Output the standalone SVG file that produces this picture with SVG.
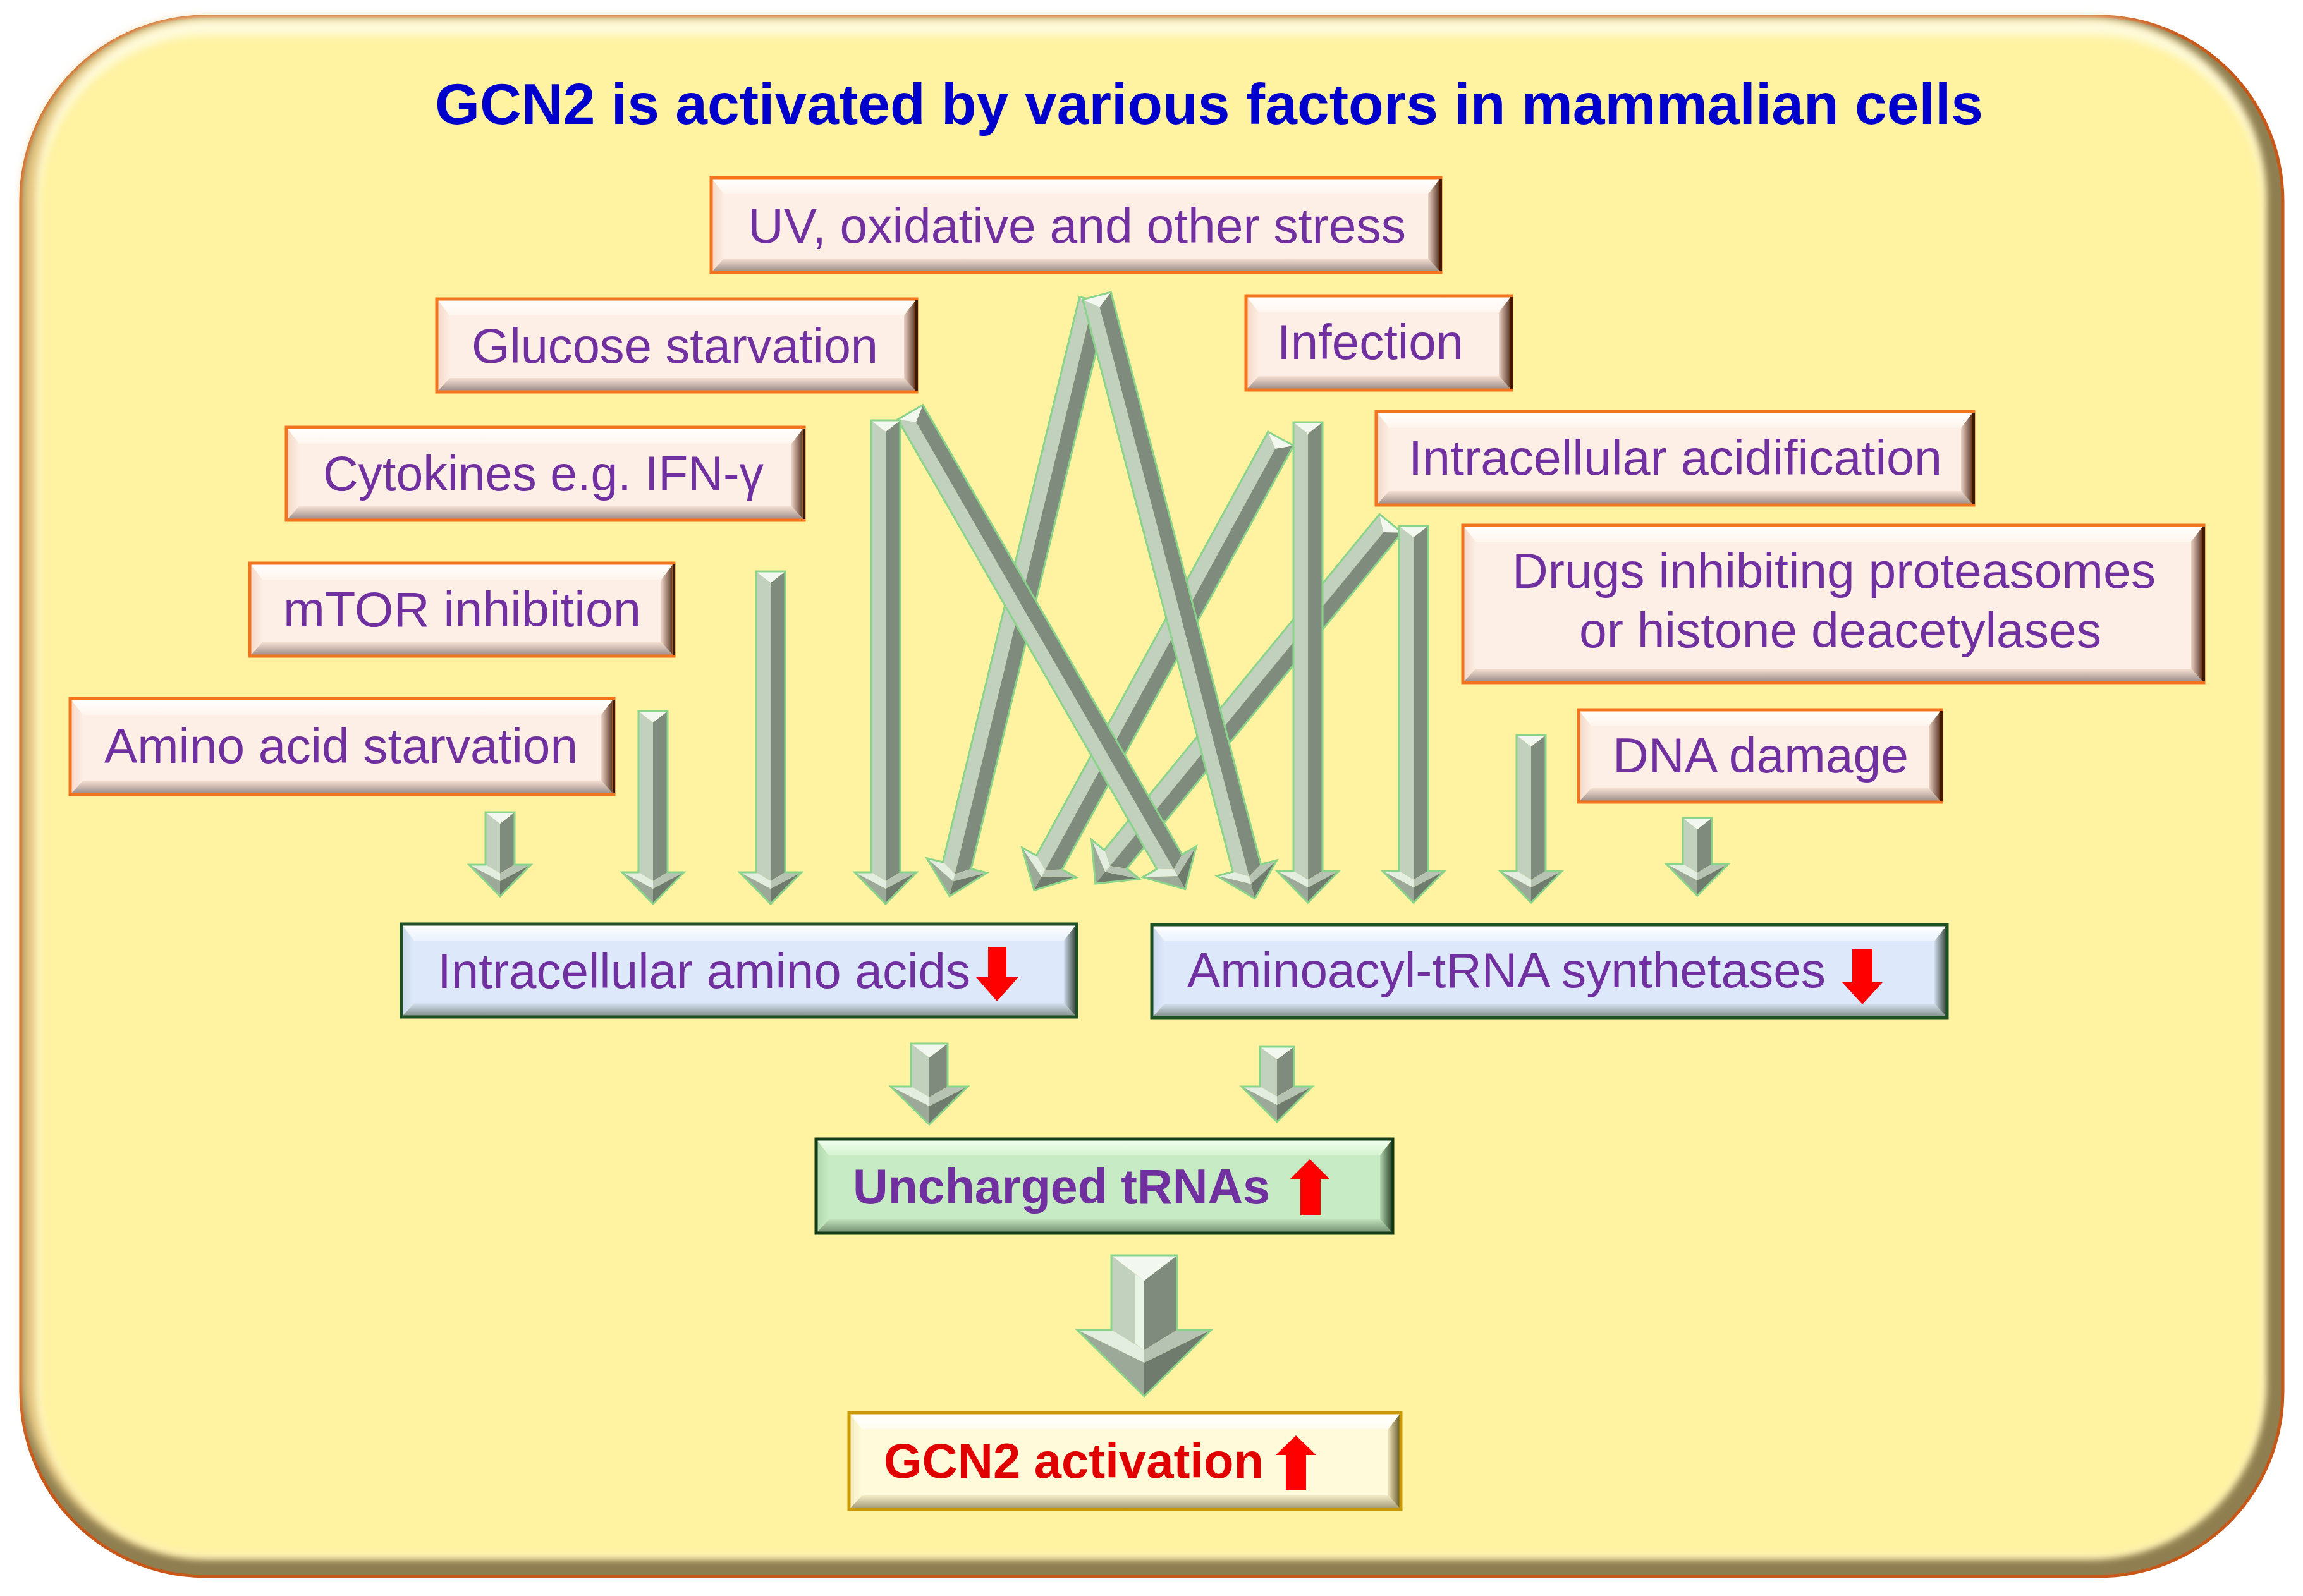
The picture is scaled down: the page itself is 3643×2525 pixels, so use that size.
<svg xmlns="http://www.w3.org/2000/svg" width="3643" height="2525" viewBox="0 0 3643 2525">
<defs>
<style>
.t{font-family:"Liberation Sans",Arial,sans-serif;font-size:78px;fill:#7030a0}
.b{font-weight:bold}
.title{font-family:"Liberation Sans",Arial,sans-serif;font-size:90px;font-weight:bold;fill:#0000cc}
.red{fill:#e00000}
.ra{fill:#ff0000}
.sl{fill:#c2d0be}.sr{fill:#7f8b7d}.cap{fill:#f2f8f0}
.hlu{fill:#e3ede0}.hru{fill:#b6c3b3}.hll{fill:#9ca999}.hrl{fill:#6f7b6c}
.ol{fill:none;stroke:#8ad38a;stroke-width:3;stroke-linejoin:miter}
.pkT{fill:url(#pkTop)}.pkB{fill:url(#pkBot)}.pkR{fill:url(#pkRight)}.pkL{fill:url(#pkLeft)}.pkF{fill:#fdefe6}
.pkS{fill:none;stroke:#f3741f;stroke-width:5}
.blT{fill:url(#blTop)}.blB{fill:url(#blBot)}.blR{fill:url(#blRight)}.blL{fill:url(#blLeft)}.blF{fill:#dde9fb}
.blS{fill:none;stroke:#1f4f24;stroke-width:5}
.grT{fill:url(#grTop)}.grB{fill:url(#grBot)}.grR{fill:url(#grRight)}.grL{fill:url(#grLeft)}.grF{fill:#c7ebc4}
.grS{fill:none;stroke:#143c18;stroke-width:5}
.crT{fill:url(#crTop)}.crB{fill:url(#crBot)}.crR{fill:url(#crRight)}.crL{fill:url(#crLeft)}.crF{fill:#fffbda}
.crS{fill:none;stroke:#c99a06;stroke-width:5}
.rd{stroke:#3c1a08;stroke-width:4}
</style>
<linearGradient id="pkTop" x1="0" y1="0" x2="0" y2="1"><stop offset="0" stop-color="#ffffff"/><stop offset="1" stop-color="#fff5ee"/></linearGradient>
<linearGradient id="pkBot" x1="0" y1="0" x2="0" y2="1"><stop offset="0" stop-color="#f6e0d4"/><stop offset="1" stop-color="#968783"/></linearGradient>
<linearGradient id="pkRight" x1="0" y1="0" x2="1" y2="0"><stop offset="0" stop-color="#ecd3c6"/><stop offset="1" stop-color="#4a2413"/></linearGradient>
<linearGradient id="pkLeft" x1="0" y1="0" x2="1" y2="0"><stop offset="0" stop-color="#f3d6c6"/><stop offset="1" stop-color="#fdeee4"/></linearGradient>
<linearGradient id="blTop" x1="0" y1="0" x2="0" y2="1"><stop offset="0" stop-color="#ffffff"/><stop offset="1" stop-color="#eaf2fd"/></linearGradient>
<linearGradient id="blBot" x1="0" y1="0" x2="0" y2="1"><stop offset="0" stop-color="#d4e0f0"/><stop offset="1" stop-color="#7e8c86"/></linearGradient>
<linearGradient id="blRight" x1="0" y1="0" x2="1" y2="0"><stop offset="0" stop-color="#d0dcec"/><stop offset="1" stop-color="#2c3a30"/></linearGradient>
<linearGradient id="blLeft" x1="0" y1="0" x2="1" y2="0"><stop offset="0" stop-color="#c9d7ea"/><stop offset="1" stop-color="#dde9fb"/></linearGradient>
<linearGradient id="grTop" x1="0" y1="0" x2="0" y2="1"><stop offset="0" stop-color="#f2fff0"/><stop offset="1" stop-color="#d4f2d0"/></linearGradient>
<linearGradient id="grBot" x1="0" y1="0" x2="0" y2="1"><stop offset="0" stop-color="#bfe0bb"/><stop offset="1" stop-color="#6f8c6c"/></linearGradient>
<linearGradient id="grRight" x1="0" y1="0" x2="1" y2="0"><stop offset="0" stop-color="#b4d4b0"/><stop offset="1" stop-color="#233f23"/></linearGradient>
<linearGradient id="grLeft" x1="0" y1="0" x2="1" y2="0"><stop offset="0" stop-color="#aed6aa"/><stop offset="1" stop-color="#c7ebc4"/></linearGradient>
<linearGradient id="crTop" x1="0" y1="0" x2="0" y2="1"><stop offset="0" stop-color="#ffffff"/><stop offset="1" stop-color="#fffdf0"/></linearGradient>
<linearGradient id="crBot" x1="0" y1="0" x2="0" y2="1"><stop offset="0" stop-color="#f4edc8"/><stop offset="1" stop-color="#9d9472"/></linearGradient>
<linearGradient id="crRight" x1="0" y1="0" x2="1" y2="0"><stop offset="0" stop-color="#ece3b8"/><stop offset="1" stop-color="#5a4e1e"/></linearGradient>
<linearGradient id="crLeft" x1="0" y1="0" x2="1" y2="0"><stop offset="0" stop-color="#f2eabf"/><stop offset="1" stop-color="#fffbda"/></linearGradient>
<filter id="soft" x="-2%" y="-2%" width="104%" height="104%"><feGaussianBlur stdDeviation="7"/></filter>
</defs>

<rect width="3643" height="2525" fill="#ffffff"/>

<g id="panel">
<rect x="33" y="26" width="3578" height="2468" rx="292" fill="#8f7f50" stroke="#c8581a" stroke-width="5"/>
<rect x="36" y="29" width="3545" height="2434" rx="285" fill="#e6c882" filter="url(#soft)"/>
<rect x="58" y="30" width="3523" height="2433" rx="275" fill="#fffbdc" filter="url(#soft)"/>
<rect x="62" y="56" width="3518" height="2406" rx="265" fill="#fff2a0" filter="url(#soft)"/>
</g>

<g id="title"><text class="title" x="688" y="196" textLength="2449" lengthAdjust="spacingAndGlyphs">GCN2 is activated by various factors in mammalian cells</text></g>

<g id="connectors">
<g id="a6" transform="translate(1730,475) rotate(13.59)">
<polygon class="sl" points="-23,0 0,18 0,934 -23,920"/><polygon class="sr" points="23,0 0,18 0,934 23,920"/><polygon class="cap" points="-23,0 23,0 0,18"/>
<polygon class="hlu" points="-49,920 -23,920 0,934 0,946"/><polygon class="hru" points="49,920 23,920 0,934 0,946"/><polygon class="hll" points="-49,920 0,946 0,970"/><polygon class="hrl" points="49,920 0,946 0,970"/>
<polygon class="ol" points="-23,0 23,0 23,920 49,920 0,970 -49,920 -23,920"/></g>
<g id="a8" transform="translate(2026,694) rotate(28.64)">
<polygon class="sl" points="-23,0 0,18 0,778 -23,764"/><polygon class="sr" points="23,0 0,18 0,778 23,764"/><polygon class="cap" points="-23,0 23,0 0,18"/>
<polygon class="hlu" points="-49,764 -23,764 0,778 0,790"/><polygon class="hru" points="49,764 23,764 0,778 0,790"/><polygon class="hll" points="-49,764 0,790 0,814"/><polygon class="hrl" points="49,764 0,790 0,814"/>
<polygon class="ol" points="-23,0 23,0 23,764 49,764 0,814 -49,764 -23,764"/></g>
<g id="a10" transform="translate(2200,828) rotate(39.33)">
<polygon class="sl" points="-23,0 0,18 0,701 -23,687"/><polygon class="sr" points="23,0 0,18 0,701 23,687"/><polygon class="cap" points="-23,0 23,0 0,18"/>
<polygon class="hlu" points="-49,687 -23,687 0,701 0,713"/><polygon class="hru" points="49,687 23,687 0,701 0,713"/><polygon class="hll" points="-49,687 0,713 0,737"/><polygon class="hrl" points="49,687 0,713 0,737"/>
<polygon class="ol" points="-23,0 23,0 23,687 49,687 0,737 -49,687 -23,687"/></g>
<g id="a5" transform="translate(1440,652) rotate(-29.95)">
<polygon class="sl" points="-23,0 0,18 0,835 -23,821"/><polygon class="sr" points="23,0 0,18 0,835 23,821"/><polygon class="cap" points="-23,0 23,0 0,18"/>
<polygon class="hlu" points="-49,821 -23,821 0,835 0,847"/><polygon class="hru" points="49,821 23,821 0,835 0,847"/><polygon class="hll" points="-49,821 0,847 0,871"/><polygon class="hrl" points="49,821 0,847 0,871"/>
<polygon class="ol" points="-23,0 23,0 23,821 49,821 0,871 -49,821 -23,821"/></g>
<g id="a7" transform="translate(1735,468) rotate(-14.69)">
<polygon class="sl" points="-23,0 0,18 0,950 -23,936"/><polygon class="sr" points="23,0 0,18 0,950 23,936"/><polygon class="cap" points="-23,0 23,0 0,18"/>
<polygon class="hlu" points="-49,936 -23,936 0,950 0,962"/><polygon class="hru" points="49,936 23,936 0,950 0,962"/><polygon class="hll" points="-49,936 0,962 0,986"/><polygon class="hrl" points="49,936 0,962 0,986"/>
<polygon class="ol" points="-23,0 23,0 23,936 49,936 0,986 -49,936 -23,936"/></g>
<g id="a1" transform="translate(791,1285)">
<polygon class="sl" points="-23,0 0,18 0,97 -23,83"/><polygon class="sr" points="23,0 0,18 0,97 23,83"/><polygon class="cap" points="-23,0 23,0 0,18"/>
<polygon class="hlu" points="-49,83 -23,83 0,97 0,109"/><polygon class="hru" points="49,83 23,83 0,97 0,109"/><polygon class="hll" points="-49,83 0,109 0,133"/><polygon class="hrl" points="49,83 0,109 0,133"/>
<polygon class="ol" points="-23,0 23,0 23,83 49,83 0,133 -49,83 -23,83"/></g>
<g id="a2" transform="translate(1033,1125)">
<polygon class="sl" points="-23,0 0,18 0,269 -23,255"/><polygon class="sr" points="23,0 0,18 0,269 23,255"/><polygon class="cap" points="-23,0 23,0 0,18"/>
<polygon class="hlu" points="-49,255 -23,255 0,269 0,281"/><polygon class="hru" points="49,255 23,255 0,269 0,281"/><polygon class="hll" points="-49,255 0,281 0,305"/><polygon class="hrl" points="49,255 0,281 0,305"/>
<polygon class="ol" points="-23,0 23,0 23,255 49,255 0,305 -49,255 -23,255"/></g>
<g id="a3" transform="translate(1219,904)">
<polygon class="sl" points="-23,0 0,18 0,490 -23,476"/><polygon class="sr" points="23,0 0,18 0,490 23,476"/><polygon class="cap" points="-23,0 23,0 0,18"/>
<polygon class="hlu" points="-49,476 -23,476 0,490 0,502"/><polygon class="hru" points="49,476 23,476 0,490 0,502"/><polygon class="hll" points="-49,476 0,502 0,526"/><polygon class="hrl" points="49,476 0,502 0,526"/>
<polygon class="ol" points="-23,0 23,0 23,476 49,476 0,526 -49,476 -23,476"/></g>
<g id="a4" transform="translate(1401,665)">
<polygon class="sl" points="-23,0 0,18 0,729 -23,715"/><polygon class="sr" points="23,0 0,18 0,729 23,715"/><polygon class="cap" points="-23,0 23,0 0,18"/>
<polygon class="hlu" points="-49,715 -23,715 0,729 0,741"/><polygon class="hru" points="49,715 23,715 0,729 0,741"/><polygon class="hll" points="-49,715 0,741 0,765"/><polygon class="hrl" points="49,715 0,741 0,765"/>
<polygon class="ol" points="-23,0 23,0 23,715 49,715 0,765 -49,715 -23,715"/></g>
<g id="a9" transform="translate(2069,668)">
<polygon class="sl" points="-23,0 0,18 0,724 -23,710"/><polygon class="sr" points="23,0 0,18 0,724 23,710"/><polygon class="cap" points="-23,0 23,0 0,18"/>
<polygon class="hlu" points="-49,710 -23,710 0,724 0,736"/><polygon class="hru" points="49,710 23,710 0,724 0,736"/><polygon class="hll" points="-49,710 0,736 0,760"/><polygon class="hrl" points="49,710 0,736 0,760"/>
<polygon class="ol" points="-23,0 23,0 23,710 49,710 0,760 -49,710 -23,710"/></g>
<g id="a11" transform="translate(2236,832)">
<polygon class="sl" points="-23,0 0,18 0,560 -23,546"/><polygon class="sr" points="23,0 0,18 0,560 23,546"/><polygon class="cap" points="-23,0 23,0 0,18"/>
<polygon class="hlu" points="-49,546 -23,546 0,560 0,572"/><polygon class="hru" points="49,546 23,546 0,560 0,572"/><polygon class="hll" points="-49,546 0,572 0,596"/><polygon class="hrl" points="49,546 0,572 0,596"/>
<polygon class="ol" points="-23,0 23,0 23,546 49,546 0,596 -49,546 -23,546"/></g>
<g id="a12" transform="translate(2422,1163)">
<polygon class="sl" points="-23,0 0,18 0,229 -23,215"/><polygon class="sr" points="23,0 0,18 0,229 23,215"/><polygon class="cap" points="-23,0 23,0 0,18"/>
<polygon class="hlu" points="-49,215 -23,215 0,229 0,241"/><polygon class="hru" points="49,215 23,215 0,229 0,241"/><polygon class="hll" points="-49,215 0,241 0,265"/><polygon class="hrl" points="49,215 0,241 0,265"/>
<polygon class="ol" points="-23,0 23,0 23,215 49,215 0,265 -49,215 -23,215"/></g>
<g id="a13" transform="translate(2685,1294)">
<polygon class="sl" points="-23,0 0,18 0,87 -23,73"/><polygon class="sr" points="23,0 0,18 0,87 23,73"/><polygon class="cap" points="-23,0 23,0 0,18"/>
<polygon class="hlu" points="-49,73 -23,73 0,87 0,99"/><polygon class="hru" points="49,73 23,73 0,87 0,99"/><polygon class="hll" points="-49,73 0,99 0,123"/><polygon class="hrl" points="49,73 0,99 0,123"/>
<polygon class="ol" points="-23,0 23,0 23,73 49,73 0,123 -49,73 -23,73"/></g>
<g id="b1" transform="translate(1470,1651)">
<polygon class="sl" points="-29,0 0,22 0,85 -29,68"/><polygon class="sr" points="29,0 0,22 0,85 29,68"/><polygon class="cap" points="-29,0 29,0 0,22"/>
<polygon class="hlu" points="-61,68 -29,68 0,85 0,99"/><polygon class="hru" points="61,68 29,68 0,85 0,99"/><polygon class="hll" points="-61,68 0,99 0,128"/><polygon class="hrl" points="61,68 0,99 0,128"/>
<polygon class="ol" points="-29,0 29,0 29,68 61,68 0,128 -61,68 -29,68"/></g>
<g id="b2" transform="translate(2020,1656)">
<polygon class="sl" points="-27,0 0,20 0,79 -27,63"/><polygon class="sr" points="27,0 0,20 0,79 27,63"/><polygon class="cap" points="-27,0 27,0 0,20"/>
<polygon class="hlu" points="-56,63 -27,63 0,79 0,92"/><polygon class="hru" points="56,63 27,63 0,79 0,92"/><polygon class="hll" points="-56,63 0,92 0,119"/><polygon class="hrl" points="56,63 0,92 0,119"/>
<polygon class="ol" points="-27,0 27,0 27,63 56,63 0,119 -56,63 -27,63"/></g>
<g id="b3" transform="translate(1810,1986)">
<polygon class="sl" points="-52,0 0,40 0,150 -52,118"/><polygon class="sr" points="52,0 0,40 0,150 52,118"/><polygon class="cap" points="-52,0 52,0 0,40"/>
<polygon fill="#e9f5e6" points="-14,30 0,40 0,150 -14,140"/>
<polygon class="hlu" points="-106,118 -52,118 0,150 0,170"/><polygon class="hru" points="106,118 52,118 0,150 0,170"/><polygon class="hll" points="-106,118 0,170 0,223"/><polygon class="hrl" points="106,118 0,170 0,223"/>
<polygon class="ol" points="-52,0 52,0 52,118 106,118 0,223 -106,118 -52,118"/></g>
</g>

<g id="n-uv">
<polygon class="pkT" points="1125,281 2279,281 2259,307 1145,307"/><polygon class="pkB" points="1125,431 2279,431 2259,409 1145,409"/><polygon class="pkL" points="1125,281 1145,307 1145,409 1125,431"/><polygon class="pkR" points="2279,281 2259,307 2259,409 2279,431"/>
<rect class="pkF" x="1145" y="307" width="1114" height="102"/><rect class="pkS" x="1125" y="281" width="1154" height="150"/><line class="rd" x1="2279" y1="283" x2="2279" y2="429"/>
<text class="t" x="1183" y="384" textLength="1041" lengthAdjust="spacingAndGlyphs">UV, oxidative and other stress</text></g>

<g id="n-glucose">
<polygon class="pkT" points="691,473 1450,473 1430,499 711,499"/><polygon class="pkB" points="691,620 1450,620 1430,598 711,598"/><polygon class="pkL" points="691,473 711,499 711,598 691,620"/><polygon class="pkR" points="1450,473 1430,499 1430,598 1450,620"/>
<rect class="pkF" x="711" y="499" width="719" height="99"/><rect class="pkS" x="691" y="473" width="759" height="147"/><line class="rd" x1="1450" y1="475" x2="1450" y2="618"/>
<text class="t" x="746" y="574" textLength="643" lengthAdjust="spacingAndGlyphs">Glucose starvation</text></g>

<g id="n-infection">
<polygon class="pkT" points="1971,468 2391,468 2371,494 1991,494"/><polygon class="pkB" points="1971,617 2391,617 2371,595 1991,595"/><polygon class="pkL" points="1971,468 1991,494 1991,595 1971,617"/><polygon class="pkR" points="2391,468 2371,494 2371,595 2391,617"/>
<rect class="pkF" x="1991" y="494" width="380" height="101"/><rect class="pkS" x="1971" y="468" width="420" height="149"/><line class="rd" x1="2391" y1="470" x2="2391" y2="615"/>
<text class="t" x="2020" y="568" textLength="295" lengthAdjust="spacingAndGlyphs">Infection</text></g>

<g id="n-cytokines">
<polygon class="pkT" points="453,676 1272,676 1252,702 473,702"/><polygon class="pkB" points="453,823 1272,823 1252,801 473,801"/><polygon class="pkL" points="453,676 473,702 473,801 453,823"/><polygon class="pkR" points="1272,676 1252,702 1252,801 1272,823"/>
<rect class="pkF" x="473" y="702" width="779" height="99"/><rect class="pkS" x="453" y="676" width="819" height="147"/><line class="rd" x1="1272" y1="678" x2="1272" y2="821"/>
<text class="t" x="511" y="776" textLength="697" lengthAdjust="spacingAndGlyphs">Cytokines e.g. IFN-γ</text></g>

<g id="n-acidification">
<polygon class="pkT" points="2177,651 3122,651 3102,677 2197,677"/><polygon class="pkB" points="2177,799 3122,799 3102,777 2197,777"/><polygon class="pkL" points="2177,651 2197,677 2197,777 2177,799"/><polygon class="pkR" points="3122,651 3102,677 3102,777 3122,799"/>
<rect class="pkF" x="2197" y="677" width="905" height="100"/><rect class="pkS" x="2177" y="651" width="945" height="148"/><line class="rd" x1="3122" y1="653" x2="3122" y2="797"/>
<text class="t" x="2228" y="751" textLength="844" lengthAdjust="spacingAndGlyphs">Intracellular acidification</text></g>

<g id="n-mtor">
<polygon class="pkT" points="395,891 1066,891 1046,917 415,917"/><polygon class="pkB" points="395,1038 1066,1038 1046,1016 415,1016"/><polygon class="pkL" points="395,891 415,917 415,1016 395,1038"/><polygon class="pkR" points="1066,891 1046,917 1046,1016 1066,1038"/>
<rect class="pkF" x="415" y="917" width="631" height="99"/><rect class="pkS" x="395" y="891" width="671" height="147"/><line class="rd" x1="1066" y1="893" x2="1066" y2="1036"/>
<text class="t" x="448" y="991" textLength="566" lengthAdjust="spacingAndGlyphs">mTOR inhibition</text></g>

<g id="n-drugs">
<polygon class="pkT" points="2314,831 3486,831 3466,857 2334,857"/><polygon class="pkB" points="2314,1080 3486,1080 3466,1058 2334,1058"/><polygon class="pkL" points="2314,831 2334,857 2334,1058 2314,1080"/><polygon class="pkR" points="3486,831 3466,857 3466,1058 3486,1080"/>
<rect class="pkF" x="2334" y="857" width="1132" height="201"/><rect class="pkS" x="2314" y="831" width="1172" height="249"/><line class="rd" x1="3486" y1="833" x2="3486" y2="1078"/>
<text class="t" x="2392" y="930" textLength="1018" lengthAdjust="spacingAndGlyphs">Drugs inhibiting proteasomes</text>
<text class="t" x="2498" y="1024" textLength="826" lengthAdjust="spacingAndGlyphs">or histone deacetylases</text></g>

<g id="n-aastarv">
<polygon class="pkT" points="111,1105 971,1105 951,1131 131,1131"/><polygon class="pkB" points="111,1257 971,1257 951,1235 131,1235"/><polygon class="pkL" points="111,1105 131,1131 131,1235 111,1257"/><polygon class="pkR" points="971,1105 951,1131 951,1235 971,1257"/>
<rect class="pkF" x="131" y="1131" width="820" height="104"/><rect class="pkS" x="111" y="1105" width="860" height="152"/><line class="rd" x1="971" y1="1107" x2="971" y2="1255"/>
<text class="t" x="165" y="1207" textLength="749" lengthAdjust="spacingAndGlyphs">Amino acid starvation</text></g>

<g id="n-dna">
<polygon class="pkT" points="2497,1123 3071,1123 3051,1149 2517,1149"/><polygon class="pkB" points="2497,1269 3071,1269 3051,1247 2517,1247"/><polygon class="pkL" points="2497,1123 2517,1149 2517,1247 2497,1269"/><polygon class="pkR" points="3071,1123 3051,1149 3051,1247 3071,1269"/>
<rect class="pkF" x="2517" y="1149" width="534" height="98"/><rect class="pkS" x="2497" y="1123" width="574" height="146"/><line class="rd" x1="3071" y1="1125" x2="3071" y2="1267"/>
<text class="t" x="2551" y="1222" textLength="468" lengthAdjust="spacingAndGlyphs">DNA damage</text></g>

<g id="n-aminoacids">
<polygon class="blT" points="635,1462 1703,1462 1683,1488 655,1488"/><polygon class="blB" points="635,1609 1703,1609 1683,1587 655,1587"/><polygon class="blL" points="635,1462 655,1488 655,1587 635,1609"/><polygon class="blR" points="1703,1462 1683,1488 1683,1587 1703,1609"/>
<rect class="blF" x="655" y="1488" width="1028" height="99"/><rect class="blS" x="635" y="1462" width="1068" height="147"/>
<text class="t" x="692" y="1563" textLength="843" lengthAdjust="spacingAndGlyphs">Intracellular amino acids</text>
<polygon class="ra" points="1563,1498 1592,1498 1592,1546 1611,1546 1577,1584 1544,1546 1563,1546"/></g>

<g id="n-synthetases">
<polygon class="blT" points="1822,1463 3080,1463 3060,1489 1842,1489"/><polygon class="blB" points="1822,1610 3080,1610 3060,1588 1842,1588"/><polygon class="blL" points="1822,1463 1842,1489 1842,1588 1822,1610"/><polygon class="blR" points="3080,1463 3060,1489 3060,1588 3080,1610"/>
<rect class="blF" x="1842" y="1489" width="1218" height="99"/><rect class="blS" x="1822" y="1463" width="1258" height="147"/>
<text class="t" x="1878" y="1562" textLength="1010" lengthAdjust="spacingAndGlyphs">Aminoacyl-tRNA synthetases</text>
<polygon class="ra" points="2930,1501 2962,1501 2962,1554 2978,1554 2946,1589 2914,1554 2930,1554"/></g>

<g id="n-uncharged">
<polygon class="grT" points="1291,1802 2203,1802 2183,1828 1311,1828"/><polygon class="grB" points="1291,1951 2203,1951 2183,1929 1311,1929"/><polygon class="grL" points="1291,1802 1311,1828 1311,1929 1291,1951"/><polygon class="grR" points="2203,1802 2183,1828 2183,1929 2203,1951"/>
<rect class="grF" x="1311" y="1828" width="872" height="101"/><rect class="grS" x="1291" y="1802" width="912" height="149"/>
<text class="t b" x="1349" y="1904" textLength="660" lengthAdjust="spacingAndGlyphs">Uncharged tRNAs</text>
<polygon class="ra" points="2057,1923 2089,1923 2089,1866 2104,1866 2072,1834 2040,1866 2057,1866"/></g>

<g id="n-gcn2">
<polygon class="crT" points="1343,2235 2216,2235 2196,2261 1363,2261"/><polygon class="crB" points="1343,2388 2216,2388 2196,2366 1363,2366"/><polygon class="crL" points="1343,2235 1363,2261 1363,2366 1343,2388"/><polygon class="crR" points="2216,2235 2196,2261 2196,2366 2216,2388"/>
<rect class="crF" x="1363" y="2261" width="833" height="105"/><rect class="crS" x="1343" y="2235" width="873" height="153"/>
<text class="t b red" x="1398" y="2338" textLength="601" lengthAdjust="spacingAndGlyphs">GCN2 activation</text>
<polygon class="ra" points="2034,2357 2066,2357 2066,2302 2082,2302 2050,2271 2018,2302 2034,2302"/></g>
</svg>
